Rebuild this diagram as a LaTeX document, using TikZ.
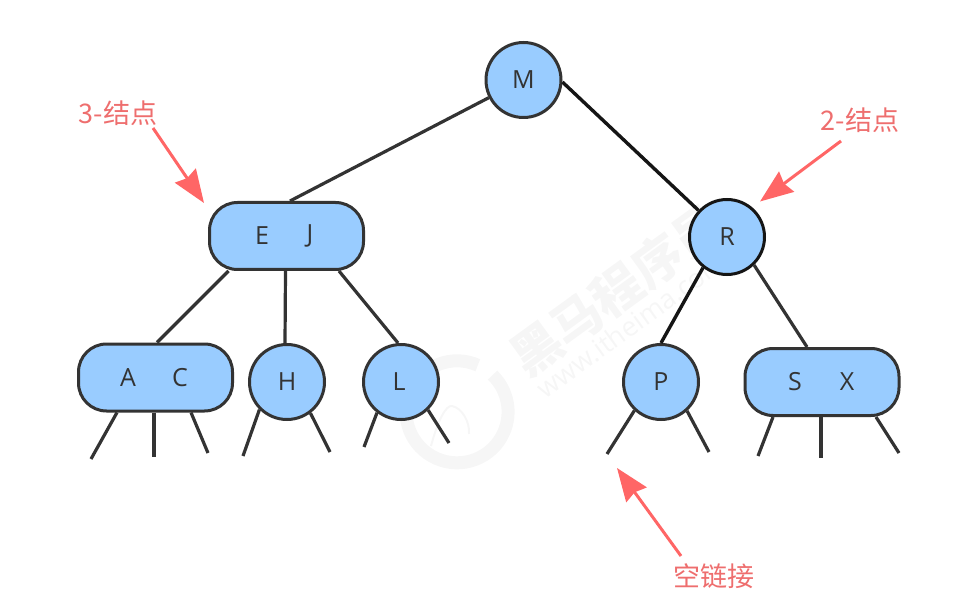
\documentclass[tikz,border=0pt]{standalone}
\usepackage{fontspec}
\setmainfont{Open Sans}
\newfontfamily\cjk{Noto Sans CJK SC}
\usetikzlibrary{arrows.meta}
\definecolor{nodefill}{HTML}{99CCFF}
\definecolor{ink}{HTML}{333333}
\definecolor{darkink}{HTML}{151515}
\definecolor{redlabel}{HTML}{EE6E6E}
\definecolor{redarrow}{HTML}{FF6666}
\definecolor{wm}{HTML}{F6F6F6}
\tikzset{
  x=1pt,y=-1pt,
  keytext/.style={font=\fontsize{25}{25}\selectfont,text=ink},
  twonode/.style={circle,draw=ink,fill=nodefill,line width=3pt,minimum size=75pt,inner sep=0pt,keytext},
  threenode/.style={rectangle,rounded corners=28pt,draw=ink,fill=nodefill,line width=3pt,minimum width=154pt,minimum height=67pt,inner sep=0pt},
  keylabel/.style={keytext,inner sep=0pt},
  treelink/.style={draw=ink,line width=3.2pt},
  darklink/.style={draw=darkink,line width=3.4pt},
  notearrow/.style={draw=redarrow,line width=3pt,-{Stealth[length=33pt,width=25pt,inset=3pt]}},
  notelabel/.style={font=\cjk\fontsize{27}{27}\selectfont,text=redlabel,inner sep=0pt},
  wmark/.style={inner sep=0pt,text=wm},
}
\begin{document}
\begin{tikzpicture}
\useasboundingbox (0,0) rectangle (953,612);
% watermark, beneath the drawing
\node[wmark,rotate=36,font=\cjk\bfseries\fontsize{50}{50}\selectfont] (wma) at (617,290) {黑马程序员};
\node[wmark,rotate=36,font=\fontsize{27}{27}\selectfont] (wmb) at (631,325) {www.itheima.com};
\node[circle,minimum size=102pt,inner sep=0pt] (wmc) at (457,412) {};
\draw[draw=wm,line width=13pt] (wmc.66) arc[start angle=66,end angle=406,radius=51pt];
\draw[draw=wm,line width=2pt] (431,446) .. controls (438,420) and (446,405) .. (452,406) .. controls (462,408) and (470,422) .. (469,434);
% free ends
\coordinate (ac1) at (91,459);
\coordinate (ac2) at (154,457);
\coordinate (ac3) at (208,453);
\coordinate (h1) at (243,456);
\coordinate (h2) at (330,452);
\coordinate (l1) at (364,447);
\coordinate (l2) at (449,443);
\coordinate (p1) at (607,454);
\coordinate (p2) at (709,452);
\coordinate (sx1) at (758,456);
\coordinate (sx2) at (821,458);
\coordinate (sx3) at (899,453);
\coordinate (s1) at (153,128);
\coordinate (t1) at (204,203);
\coordinate (s2) at (841,141);
\coordinate (t2) at (760,201.5);
\coordinate (s3) at (681,556);
\coordinate (t3) at (617,468);
% nodes
\node[twonode] (m) at (523.5,80) {M};
\node[threenode] (ej) at (286.5,236) {};
\node[twonode,draw=darkink] (r) at (727,237) {R};
\node[threenode] (ac) at (155.5,377.5) {};
\node[twonode] (h) at (287,382) {H};
\node[twonode] (l) at (401,382) {\hspace*{-4pt}L};
\node[twonode] (p) at (661,382) {P};
\node[threenode] (sx) at (822,382) {};
\node[keylabel] (te) at (262,236) {E};
\node[keylabel] (tj) at (310,236) {J};
\node[keylabel] (ta) at (128,378) {A};
\node[keylabel] (tc) at (180,378) {C};
\node[keylabel] (ts) at (795,382) {S};
\node[keylabel] (tx) at (847,382) {X};
% links
\path[treelink] (m.207) -- ([xshift=3.5pt]ej.north);
\path[darklink] (m.-3) -- (r.137);
\path[treelink] ([xshift=-58pt]ej.south) -- ([xshift=1.5pt]ac.north);
\path[treelink] ([xshift=-1pt]ej.south) -- ([xshift=-2pt]h.north);
\path[treelink] ([xshift=52.5pt]ej.south) -- ([xshift=-3pt]l.north);
\path[darklink] (r.232) -- (p.north);
\path[treelink] (r.-46) -- ([xshift=-15pt]sx.north);
\path[treelink] ([xshift=-38.5pt]ac.south) -- (ac1);
\path[treelink] ([xshift=-1.5pt]ac.south) -- (ac2);
\path[treelink] ([xshift=35.5pt]ac.south) -- (ac3);
\path[treelink] (h.225) -- (h1);
\path[treelink] (h.-53) -- (h2);
\path[treelink] (l.232) -- (l1);
\path[treelink] (l.-46) -- (l2);
\path[treelink] (p.227) -- (p1);
\path[treelink] (p.-48) -- (p2);
\path[treelink] ([xshift=-49pt]sx.south) -- (sx1);
\path[treelink] ([xshift=-1pt]sx.south) -- (sx2);
\path[treelink] ([xshift=54pt]sx.south) -- (sx3);
% notes
\path[notearrow] (s1) -- (t1);
\path[notearrow] (s2) -- (t2);
\path[notearrow] (s3) -- (t3);
\node[notelabel] (n3) at (118,113) {3-结点};
\node[notelabel] (n2) at (860,120) {2-结点};
\node[notelabel] (ne) at (714,576) {空链接};
\end{tikzpicture}
\end{document}
